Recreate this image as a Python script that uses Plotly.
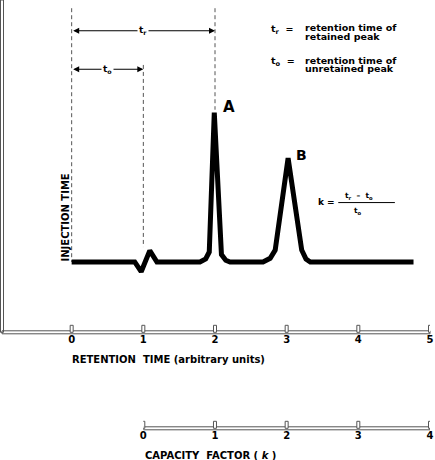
import plotly.graph_objects as go

# chromatogram trace (retention time vs detector signal)
time_pts = [0, 0.88, 0.97, 1.09, 1.19, 1.79, 1.87, 1.92, 1.99, 2.09, 2.15, 2.21,
            2.67, 2.77, 2.84, 3.02, 3.21, 3.27, 3.33, 4.77]
signal = [0, 0, -0.65, 0.76, 0, 0, 0.2, 0.67, 10, 0.5, 0.12, 0,
          0, 0.25, 0.8, 6.96, 0.8, 0.2, 0, 0]

t_inj = 0
t_o = 1
t_r = 2

rt_ticks = [0, 1, 2, 3, 4, 5]
k_ticks = [0, 1, 2, 3, 4]

FONT = "DejaVu Sans"
AXCOL = "#555"
AX1_Y = 1 - 332.3 / 460   # paper position of retention time axis
AX2_Y = 1 - 428.3 / 460   # paper position of capacity factor axis

fig = go.Figure()

# dashed markers: injection, unretained, retained peak
fig.add_trace(go.Scatter(x=[t_inj, t_inj], y=[17.0, 0], mode="lines",
                         line=dict(color="#555", width=1, dash="4px,3px"), hoverinfo="skip"))
fig.add_trace(go.Scatter(x=[t_o, t_o], y=[13.2, 1.0], mode="lines",
                         line=dict(color="#555", width=1, dash="4px,3px"), hoverinfo="skip"))
fig.add_trace(go.Scatter(x=[t_r, t_r], y=[17.0, 10.2], mode="lines",
                         line=dict(color="#555", width=1, dash="4px,3px"), hoverinfo="skip"))

fig.add_trace(go.Scatter(x=time_pts, y=signal, mode="lines",
                         line=dict(color="black", width=5), hoverinfo="skip"))

# invisible trace so the capacity factor axis gets drawn
fig.add_trace(go.Scatter(x=k_ticks, y=[0] * len(k_ticks), xaxis="x2", yaxis="y",
                         mode="markers", marker=dict(opacity=0), hoverinfo="skip"))

ann = []
# double headed arrows for t_r and t_o
ann.append(dict(x=t_r, y=15.49, ax=t_inj, ay=15.49, xref="x", yref="y", axref="x", ayref="y",
                text="", showarrow=True, arrowhead=2, arrowside="end+start",
                arrowsize=1, arrowwidth=1.2, arrowcolor="black"))
ann.append(dict(x=t_o, y=12.91, ax=t_inj, ay=12.91, xref="x", yref="y", axref="x", ayref="y",
                text="", showarrow=True, arrowhead=2, arrowside="end+start",
                arrowsize=1, arrowwidth=1.2, arrowcolor="black"))
ann.append(dict(x=(t_inj + t_r) / 2, y=15.49, text="<b>t<sub>r</sub></b>", showarrow=False,
                bgcolor="white", font=dict(size=9), borderpad=1))
ann.append(dict(x=(t_inj + t_o) / 2, y=12.91, text="<b>t<sub>o</sub></b>", showarrow=False,
                bgcolor="white", font=dict(size=9), borderpad=1))

# legend text top right
ann.append(dict(x=2.757, y=15.6, text="<b>t<sub>r</sub>  =</b>", xanchor="left", showarrow=False,
                font=dict(size=9.5)))
ann.append(dict(x=3.23, y=15.7, text="<b>retention time of</b>", xanchor="left", showarrow=False,
                font=dict(size=9.5)))
ann.append(dict(x=3.23, y=15.12, text="<b>retained peak</b>", xanchor="left", showarrow=False,
                font=dict(size=9.5)))
ann.append(dict(x=2.757, y=13.46, text="<b>t<sub>o</sub>  =</b>", xanchor="left", showarrow=False,
                font=dict(size=9.5)))
ann.append(dict(x=3.23, y=13.52, text="<b>retention time of</b>", xanchor="left", showarrow=False,
                font=dict(size=9.5)))
ann.append(dict(x=3.23, y=12.93, text="<b>unretained peak</b>", xanchor="left", showarrow=False,
                font=dict(size=9.5)))

# peak labels
ann.append(dict(x=2.195, y=10.4, text="<b>A</b>", showarrow=False, font=dict(size=15)))
ann.append(dict(x=3.207, y=7.19, text="<b>B</b>", showarrow=False, font=dict(size=14)))

# capacity factor formula
ann.append(dict(x=3.56, y=4.0, text="<b>k =</b>", showarrow=False, font=dict(size=9)))
ann.append(dict(x=4.01, y=4.44, text="<b>t<sub>r</sub>  –  t<sub>o</sub></b>", showarrow=False,
                font=dict(size=7.5)))
ann.append(dict(x=3.99, y=3.44, text="<b>t<sub>o</sub></b>", showarrow=False, font=dict(size=7.5)))

ann.append(dict(x=-0.093, y=2.98, text="<b>INJECTION TIME</b>", textangle=-90, showarrow=False,
                font=dict(size=10)))

# axis titles
ann.append(dict(x=-0.03, y=1 - 359.3 / 460, xref="x", yref="paper", xanchor="left",
                yanchor="middle", text="<b>RETENTION  TIME (arbitrary units)</b>",
                showarrow=False, font=dict(size=10)))
ann.append(dict(x=0, y=1 - 455 / 460, xref="x2", yref="paper", xanchor="left",
                yanchor="middle", text="<b>CAPACITY  FACTOR ( <i>k</i> )</b>",
                showarrow=False, font=dict(size=10)))

shapes = [dict(type="line", xref="x", yref="y", x0=3.72, x1=4.51, y0=3.98, y1=3.98,
               line=dict(color="black", width=1))]

# hollow "double line" axes like the original drafting tape
shapes.append(dict(type="rect", xref="paper", x0=0, x1=1, yref="paper", ysizemode="pixel",
                   yanchor=AX1_Y, y0=-1.5, y1=1.5, line=dict(color=AXCOL, width=1)))
shapes.append(dict(type="rect", xref="x2", x0=k_ticks[0], x1=k_ticks[-1], yref="paper",
                   ysizemode="pixel", yanchor=AX2_Y, y0=-1.5, y1=1.5,
                   line=dict(color=AXCOL, width=1)))
shapes.append(dict(type="rect", xref="paper", xsizemode="pixel", xanchor=0, x0=-1.5, x1=1.5,
                   yref="paper", y0=AX1_Y, y1=1, line=dict(color=AXCOL, width=1)))
for t in rt_ticks:
    shapes.append(dict(type="rect", xref="x", xsizemode="pixel", xanchor=t, x0=-1.5, x1=1.5,
                       yref="paper", ysizemode="pixel", yanchor=AX1_Y, y0=0, y1=7,
                       line=dict(color=AXCOL, width=1), fillcolor="white"))
for k in k_ticks:
    shapes.append(dict(type="rect", xref="x2", xsizemode="pixel", xanchor=k, x0=-1.5, x1=1.5,
                       yref="paper", ysizemode="pixel", yanchor=AX2_Y, y0=0, y1=7,
                       line=dict(color=AXCOL, width=1), fillcolor="white"))

fig.update_layout(
    width=435, height=460,
    margin=dict(l=2, r=5, t=0, b=0),
    paper_bgcolor="white", plot_bgcolor="rgba(0,0,0,0)",
    showlegend=False,
    font=dict(family=FONT, color="black"),
    annotations=ann,
    shapes=shapes,
    xaxis=dict(range=[-0.972, 5], tickvals=rt_ticks, ticks="", showline=False,
               showgrid=False, zeroline=False, tickfont=dict(size=10, weight="bold"),
               anchor="y"),
    xaxis2=dict(range=[0, 4], domain=[141.3 / 428, 1], anchor="free", position=AX2_Y,
                tickvals=k_ticks, ticks="", showline=False, showgrid=False, zeroline=False,
                tickfont=dict(size=10, weight="bold")),
    yaxis=dict(range=[-4.71, 17.55], domain=[AX1_Y, 1], showline=False,
               showticklabels=False, ticks="", showgrid=False, zeroline=False),
)

# page has a default 8px body margin; drop it so the figure fills the window
fig.write_html("out.html", post_script="document.body.style.margin='0';",
               config={"displayModeBar": False})
